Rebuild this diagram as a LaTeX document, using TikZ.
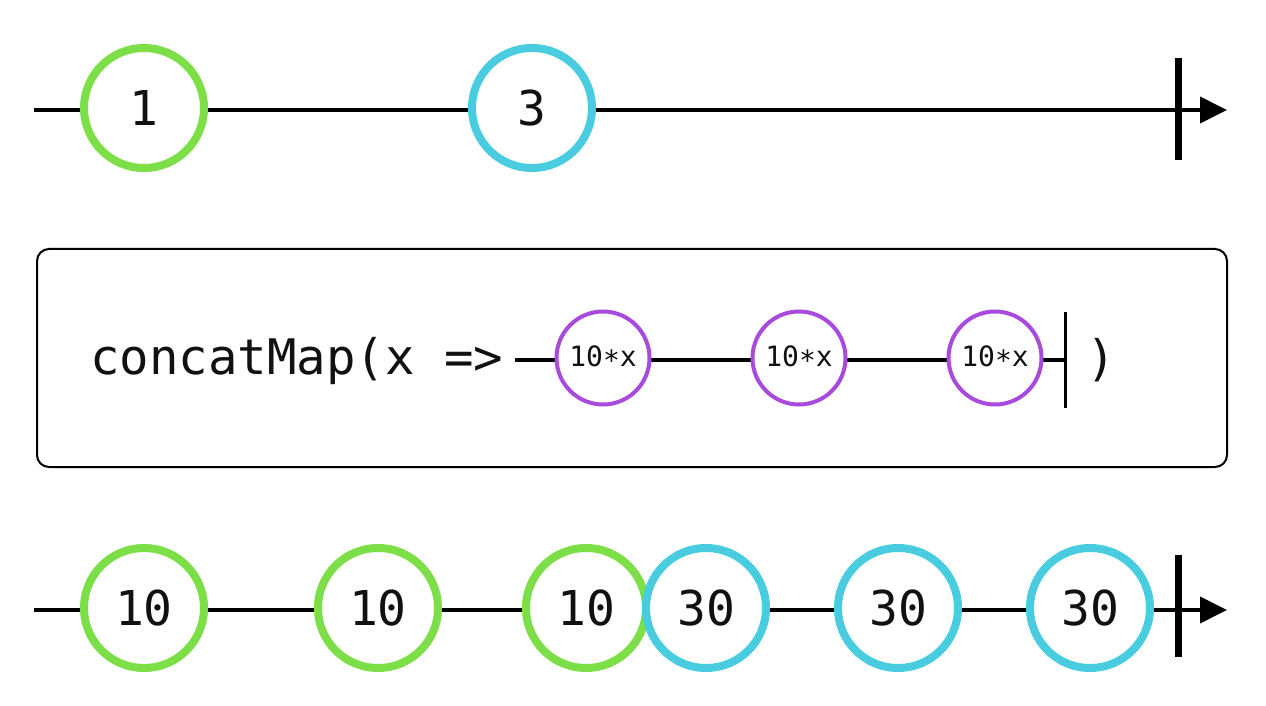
\documentclass[tikz,border=0pt]{standalone}
\usepackage{fontspec}
\newfontfamily\codefont{DejaVu Sans Mono}
\usetikzlibrary{arrows.meta}
\definecolor{marbleGreen}{HTML}{7DDF48}
\definecolor{marbleBlue}{HTML}{4ACCE0}
\definecolor{marblePurple}{HTML}{A84BDC}
\definecolor{ink}{HTML}{111111}
\tikzset{
	marble/.style={
			circle, draw=#1, line width=4pt, fill=white, inner sep=0pt,
			minimum size=60pt, text=ink,
			font=\codefont\fontsize{24}{24}\selectfont
		},
	small marble/.style={
			circle, draw=marblePurple, line width=2pt, fill=white, inner sep=0pt,
			minimum size=46.5pt, text=ink,
			font=\codefont\fontsize{14}{14}\selectfont
		},
	timeline/.style={line width=2pt, -{Triangle[length=13.5pt,width=13pt]}},
	end tick/.style={line width=3.5pt}
}

\begin{document}
\begin{tikzpicture}[x=0.5pt,y=-0.5pt]
		\useasboundingbox (0,0) rectangle (1266,706);

		% Draw the source timeline
		\coordinate (srcStart) at (34,110);
		\coordinate (srcEnd) at (1227,110);
		\coordinate (srcTick) at (1178,110);
		\draw[timeline] (srcStart) -- (srcEnd);
		\draw[end tick] (srcTick) ++(0,-52) -- ++(0,102);

		% Source marbles
		\node[marble=marbleGreen] (srcOne) at (144,108) {1};
		\node[marble=marbleBlue] (srcThree) at (532,108) {3};

		% Draw the operator box
		\draw[line width=1pt, rounded corners=6pt] (37,249) rectangle (1227,467);
		\node[anchor=base west, inner sep=0pt, text=ink,
			font=\codefont\fontsize{24.5}{24.5}\selectfont] (mapText) at (90,374) {concatMap(x =>};

		% Draw the inner timeline
		\coordinate (innerStart) at (515,360);
		\coordinate (innerEnd) at (1065,360);
		\draw[line width=2pt] (innerStart) -- (innerEnd);
		\draw[line width=1.5pt] (innerEnd) ++(0,-48) -- ++(0,96);
		\foreach \i/\x in {1/603,2/799,3/995}
		\node[small marble] (inner\i) at (\x,358) {10\raisebox{-0.3ex}{*}x};
		\node[inner sep=0pt, text=ink,
			font=\codefont\fontsize{24.5}{24.5}\selectfont] (closeParen) at (1101,360) {)};

		% Draw the result timeline
		\coordinate (outStart) at (34,610);
		\coordinate (outEnd) at (1227,610);
		\coordinate (outTick) at (1178,610);
		\draw[timeline] (outStart) -- (outEnd);
		\draw[end tick] (outTick) ++(0,-55) -- ++(0,102);

		% Result marbles
		\foreach \i/\x in {1/144,2/378,3/586}
		\node[marble=marbleGreen] (outGreen\i) at (\x,608) {10};
		\foreach \i/\x in {1/706,2/898,3/1090}
		\node[marble=marbleBlue] (outBlue\i) at (\x,608) {30};
	\end{tikzpicture}
\end{document}
